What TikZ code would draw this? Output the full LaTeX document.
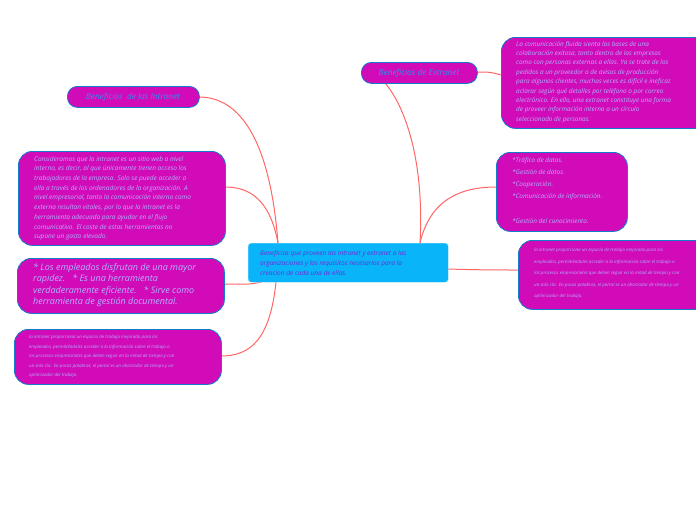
\documentclass[tikz,border=0pt]{standalone}
\usepackage{fontspec}
\setmainfont{Open Sans}
\begin{document}
\begin{tikzpicture}[x=1pt,y=-1pt,
 mag/.style={fill=magenta!80!purple, draw=cyan!60!blue, line width=0.8pt, rounded corners=14pt},
 txt/.style={text=blue!30!white, font=\itshape, align=left, anchor=north west, inner sep=0pt},
 con/.style={draw=red!60!white, line width=1pt}]
\useasboundingbox[clip] (0,0) rectangle (696,520);
\fill[white] (0,0) rectangle (696,520);
\definecolor{mg}{HTML}{D10BB8}
\definecolor{cb}{HTML}{0AB4F8}
\definecolor{lt}{HTML}{6A2BD8}
\definecolor{lb}{HTML}{3A8AF0}
\tikzset{mag/.append style={fill=mg}}
% connectors
\draw[con] (278,243) .. controls (270,140) and (240,97) .. (199,97);
\draw[con] (278,243) .. controls (270,200) and (250,187) .. (225,187);
\draw[con] (278,243) .. controls (285,290) and (250,284) .. (224,284);
\draw[con] (276,282) .. controls (270,340) and (250,356) .. (221,356);
\draw[con] (420,243) .. controls (425,150) and (400,100) .. (385,83);
\draw[con] (420,243) .. controls (430,200) and (460,187) .. (496,187);
\draw[con] (448,269) .. controls (480,270) and (500,270) .. (518,270);
\draw[con] (477,72) .. controls (490,72) .. (501,75);
% central
\node[fill=cb, draw=cyan!40!white, rounded corners=3pt, minimum width=200pt, minimum height=39pt, anchor=north west, inner sep=0pt] (c) at (248,243) {};
\node[text=lt, font=\itshape\fontsize{6.5}{10}\selectfont, align=left, anchor=north west, inner sep=0pt] (ct) at (260,250) {Beneficios que proveen las Intranet y extranet a las\\organizaciones y los requisitos necesarios para la\\creacion de cada una de ellas.};
% labels
\node[mag, rounded corners=10pt, minimum width=132pt, minimum height=21pt, anchor=north west] (li) at (67,86) {};
\node[text=lb, font=\itshape\fontsize{8.3}{10}\selectfont] at (133,97) {Beneficios\ \ de las Intranet};
\node[mag, rounded corners=10pt, minimum width=116pt, minimum height=21pt, anchor=north west] (le) at (361,62) {};
\node[text=lb, font=\itshape\fontsize{8.3}{10}\selectfont] at (419,73) {Beneficios de Extranet};
% box A
\node[mag, minimum width=207pt, minimum height=94pt, anchor=north west] (a) at (18,151) {};
\node[txt, font=\itshape\fontsize{6.5}{9.7}\selectfont] (at) at (34,156) {Consideramos que la intranet es un sitio web a nivel\\interno, es decir, al que únicamente tienen acceso los\\trabajadores de la empresa. Solo se puede acceder a\\ella a través de los ordenadores de la organización. A\\nivel empresarial, tanto la comunicación interna como\\externa resultan vitales, por lo que la intranet es la\\herramienta adecuada para ayudar en el flujo\\comunicativo. El coste de estas herramientas no\\supone un gasto elevado.};
% box B
\node[mag, minimum width=207pt, minimum height=55pt, anchor=north west] (b) at (17,258) {};
\node[txt, font=\itshape\fontsize{9}{11.5}\selectfont] (bt) at (33,263) {* Los empleados disfrutan de una mayor\\rapidez.\ \ \ * Es una herramienta\\verdaderamente eficiente.\ \ \ * Sirve como\\herramienta de gestión documental.};
% box C
\node[mag, minimum width=207pt, minimum height=55pt, anchor=north west] (cc) at (14,329) {};
\node[txt, font=\itshape\fontsize{4.5}{9.5}\selectfont] (cct) at (29,335) {la intranet proporciona un espacio de trabajo mejorado para los\\empleados, permitiéndoles acceder a la información sobre el trabajo o\\los procesos empresariales que deben seguir en la mitad de tiempo y con\\un solo clic. En pocas palabras, el portal es un ahorrador de tiempo y un\\optimizador del trabajo.};
% box D
\node[mag, minimum width=220pt, minimum height=91pt, anchor=north west] (d) at (501,37) {};
\node[txt, font=\itshape\fontsize{6.4}{9.4}\selectfont] (dt) at (516,41) {La comunicación fluida sienta las bases de una\\colaboración exitosa, tanto dentro de las empresas\\como con personas externas a ellas. Ya se trate de los\\pedidos a un proveedor o de avisos de producción\\para algunos clientes, muchas veces es difícil e ineficaz\\aclarar según qué detalles por teléfono o por correo\\electrónico. En ello, una extranet constituye una forma\\de proveer información interna a un círculo\\seleccionado de personas.};
% box E
\node[mag, minimum width=131pt, minimum height=79pt, anchor=north west] (e) at (496,152) {};
\node[txt, font=\itshape\fontsize{6.4}{12.2}\selectfont] (et) at (512,157) {*Tráfico de datos.\\*Gestión de datos.\\*Cooperación.\\*Comunicación de información.\\[12.2pt]*Gestión del conocimiento.};
% box F
\node[mag, minimum width=200pt, minimum height=69pt, anchor=north west] (f) at (518,240) {};
\node[txt, font=\itshape\fontsize{4.5}{11.5}\selectfont] (ft) at (534,248) {la intranet proporciona un espacio de trabajo mejorado para los\\empleados, permitiéndoles acceder a la información sobre el trabajo o\\los procesos empresariales que deben seguir en la mitad de tiempo y con\\un solo clic. En pocas palabras, el portal es un ahorrador de tiempo y un\\optimizador del trabajo.};
\end{tikzpicture}
\end{document}
